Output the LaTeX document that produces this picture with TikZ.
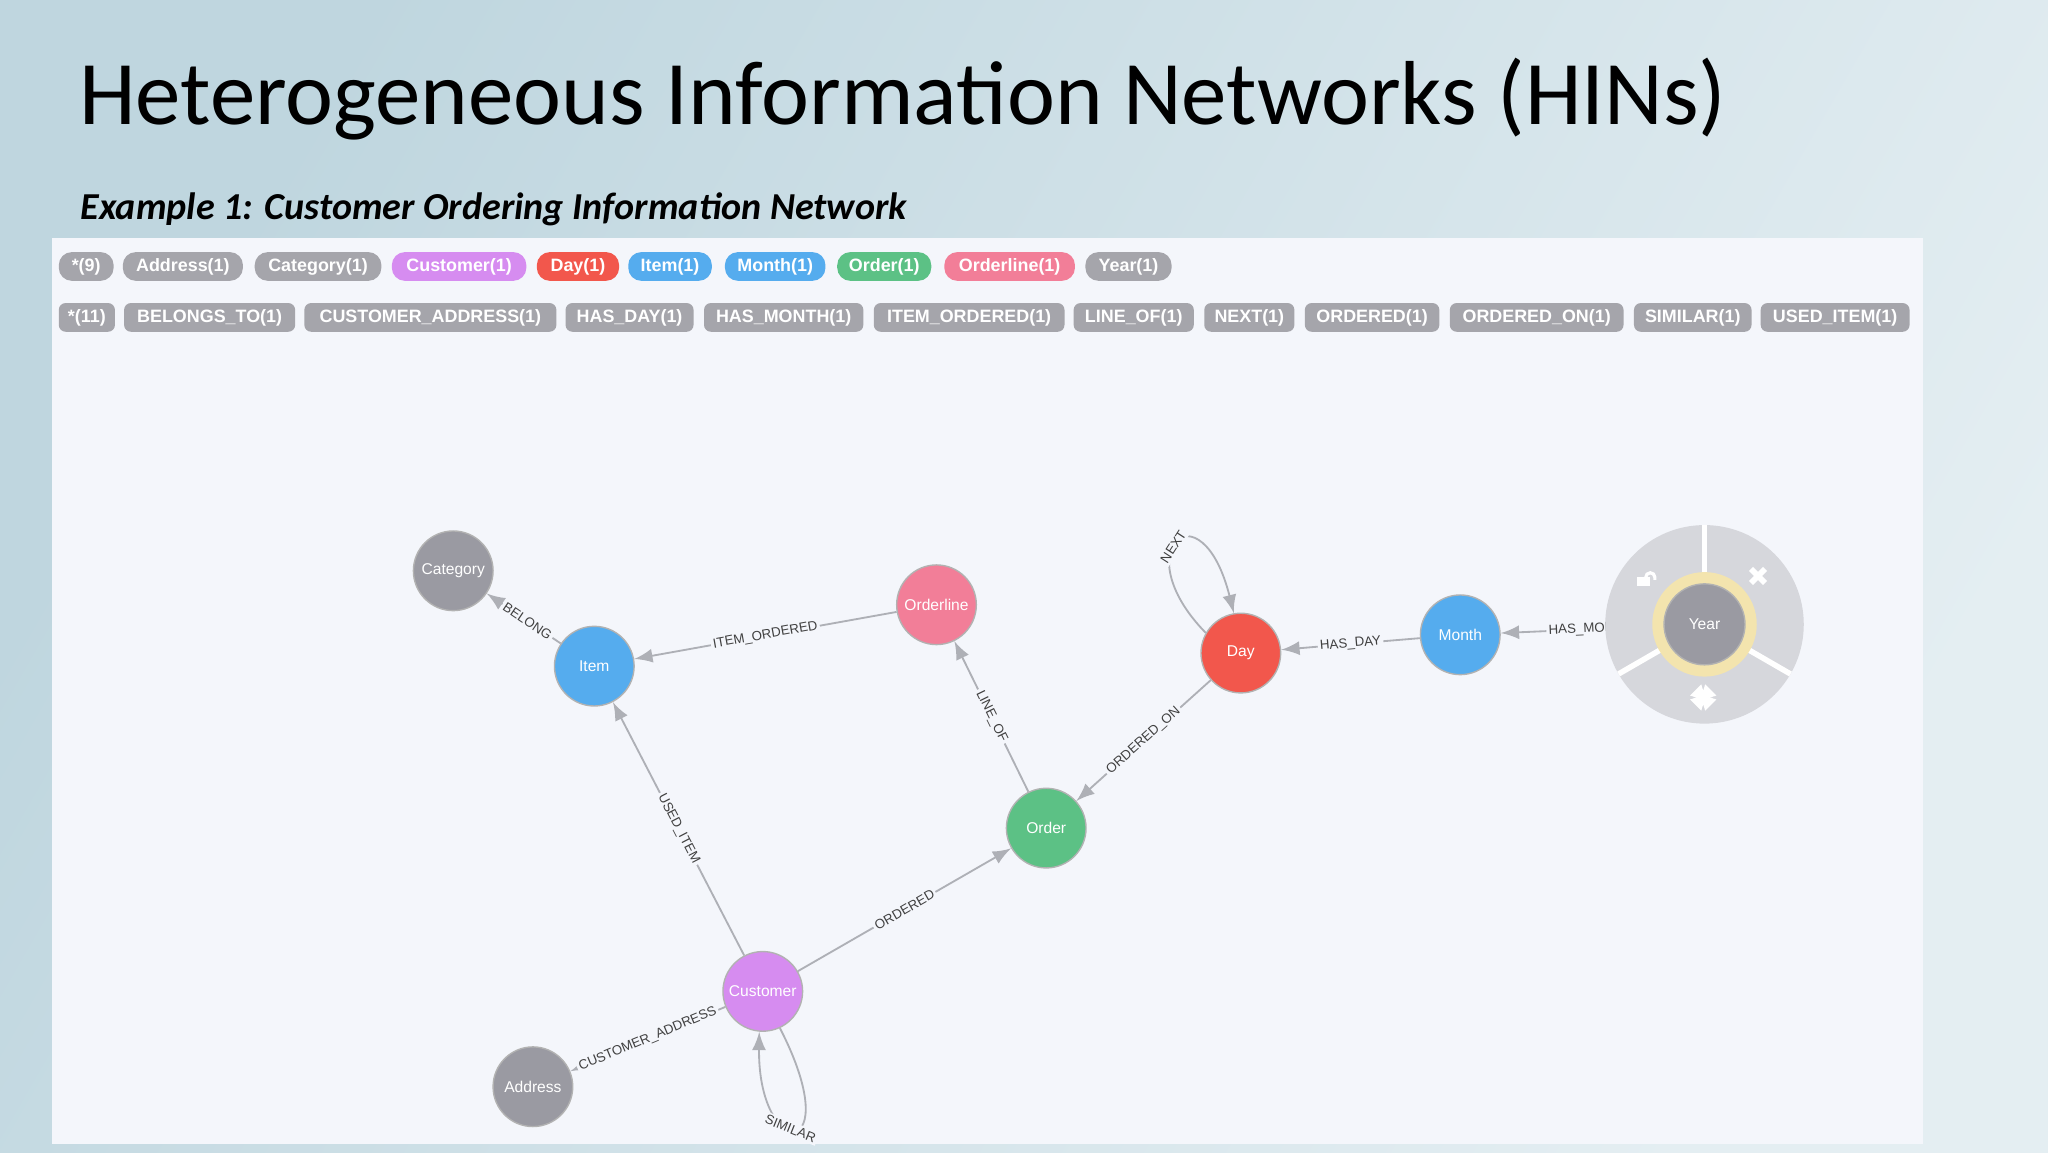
\documentclass[tikz,border=0pt]{standalone}
\usepackage{fontspec}
\setmainfont{Carlito}
\newfontfamily\graphfont{Liberation Sans}
\newfontfamily\symfont{DejaVu Sans}
\usetikzlibrary{positioning,calc}
\definecolor{bgA}{HTML}{BFD6DF}
\definecolor{bgB}{HTML}{E4EEF2}
\definecolor{panel}{HTML}{F4F6FB}
\definecolor{pillgray}{HTML}{A5A5AB}
\definecolor{nodegray}{HTML}{9A9AA2}
\definecolor{custcol}{HTML}{D68CF0}
\definecolor{daycol}{HTML}{F2574C}
\definecolor{itemcol}{HTML}{55ACEE}
\definecolor{ordercol}{HTML}{5CC185}
\definecolor{olcol}{HTML}{F27E98}
\definecolor{edgecol}{HTML}{AEB0B6}
\definecolor{ringcol}{HTML}{D6D7DC}
\definecolor{haloc}{HTML}{F3E4AE}
\begin{document}
\begin{tikzpicture}[
  pill/.style={rounded corners=0.1cm, minimum height=0.22cm, inner sep=0pt, text=white,
    font=\graphfont\bfseries\fontsize{3.9}{5}\selectfont},
  tag/.style={rounded corners=1.5pt, minimum height=0.22cm, inner sep=0pt, text=white, fill=pillgray,
    font=\graphfont\bfseries\fontsize{3.9}{5}\selectfont},
  ent/.style={circle, minimum size=0.61cm, inner sep=0pt, draw=white!70!black, line width=0.3pt, text=white,
    font=\graphfont\fontsize{3.4}{4}\selectfont},
  rel/.style={draw=edgecol, line width=0.4pt, -latex},
  lab/.style={sloped, fill=panel, inner sep=0.5pt, text=black!75,
    font=\graphfont\fontsize{2.9}{3.5}\selectfont},
]
% background and margins
\shade[left color=bgA, right color=bgB, shading angle=60] (0,0) rectangle (15.68,-8.82);
\useasboundingbox (0,0) rectangle (15.68,-8.82);
\fill[panel] (0.40,-1.82) rectangle (14.72,-8.76);

% titles
\node[anchor=base west, inner sep=0pt, font=\fontsize{19.8}{24}\selectfont] (title) at (0.60,-0.95)
  {Heterogeneous Information Networks (HINs)};
\node[anchor=base west, inner sep=0pt, font=\bfseries\itshape\fontsize{8.3}{10}\selectfont] (sub) at (0.61,-1.68)
  {Example 1: Customer Ordering Information Network};

% node labels
\foreach \txt/\cx/\w/\col [count=\i] in {
  *(9)/0.66/0.42/pillgray, Address(1)/1.40/0.92/pillgray, Category(1)/2.435/0.97/pillgray,
  Customer(1)/3.515/1.03/custcol, Day(1)/4.425/0.63/daycol, Item(1)/5.13/0.64/itemcol,
  Month(1)/5.935/0.77/itemcol, Order(1)/6.77/0.72/ordercol, Orderline(1)/7.73/1.00/olcol,
  Year(1)/8.64/0.66/pillgray}
  \node[pill, fill=\col, minimum width=\w cm] (p\i) at (\cx,-2.04) {\txt};

% relationship labels
\foreach \txt/\cx/\w [count=\i] in {
  *(11)/0.665/0.43, BELONGS\_TO(1)/1.605/1.31, CUSTOMER\_ADDRESS(1)/3.295/1.93,
  HAS\_DAY(1)/4.82/0.98, HAS\_MONTH(1)/6.00/1.22, ITEM\_ORDERED(1)/7.42/1.46,
  LINE\_OF(1)/8.68/0.92, NEXT(1)/9.565/0.69, ORDERED(1)/10.505/1.03,
  ORDERED\_ON(1)/11.765/1.33, SIMILAR(1)/12.96/0.90, USED\_ITEM(1)/14.05/1.14}
  \node[tag, minimum width=\w cm] (t\i) at (\cx,-2.43) {\txt};

% graph
\node[ent, fill=nodegray] (category) at (3.47,-4.37) {Category};
\node[ent, fill=itemcol] (item) at (4.55,-5.10) {Item};
\node[ent, fill=olcol] (orderline) at (7.17,-4.63) {Orderline};
\node[ent, fill=daycol] (day) at (9.50,-5.00) {Day};
\node[ent, fill=itemcol] (month) at (11.18,-4.86) {Month};
\node[ent, fill=ordercol] (order) at (8.01,-6.34) {Order};
\node[ent, fill=custcol] (customer) at (5.84,-7.59) {Customer};
\node[ent, fill=nodegray] (address) at (4.08,-8.32) {Address};
\coordinate (yearc) at (13.05,-4.78);

\draw[rel] (item) -- node[lab, pos=0.45] {BELONG} (category);
\draw[rel] (orderline) -- node[lab] {ITEM\_ORDERED} (item);
\draw[rel] (order) -- node[lab] {LINE\_OF} (orderline);
\draw[rel] (day) -- node[lab] {ORDERED\_ON} (order);
\draw[rel] (month) -- node[lab] {HAS\_DAY} (day);
\draw[rel] (yearc) -- node[lab, pos=0.56] {HAS\_MONTH} (month);
\draw[rel] (customer) -- node[lab] {USED\_ITEM} (item);
\draw[rel] (customer) -- node[lab] {ORDERED} (order);
\draw[rel] (customer) -- node[lab] {CUSTOMER\_ADDRESS} (address);
\draw[rel] (day.150) .. controls (8.60,-4.20) and (9.20,-3.70) .. node[lab, pos=0.45] {NEXT} (day.100);
\draw[rel] (customer.-65) .. controls (6.50,-8.90) and (5.80,-8.90) .. node[lab, pos=0.55] {SIMILAR} (customer.-95);

% year node with its menu
\fill[ringcol] (yearc) circle (0.76);
\foreach \a in {90,-30,210}
  \draw[white, line width=1.2pt] (yearc) -- ++(\a:0.76);
\fill[haloc] (yearc) circle (0.40);
\node[ent, fill=nodegray, minimum size=0.62cm] (year) at (yearc) {Year};
\node[text=white, font=\symfont\fontsize{6}{6}\selectfont] (close) at (13.46,-4.42) {✖};
% open lock
\coordinate (lock) at (12.58,-4.45);
\fill[white] ($(lock)+(-0.05,-0.04)$) rectangle ($(lock)+(0.05,0.03)$);
\draw[white, line width=0.7pt] ($(lock)+(0.02,0.03)$) arc (180:0:0.035) -- ++(0,-0.02);
% expand
\coordinate (expand) at (13.04,-5.34);
\foreach \a in {45,135,225,315}
  \draw[white, line width=0.6pt, -latex] ($(expand)+(\a:0.02)$) -- ++(\a:0.06);
\end{tikzpicture}
\end{document}
